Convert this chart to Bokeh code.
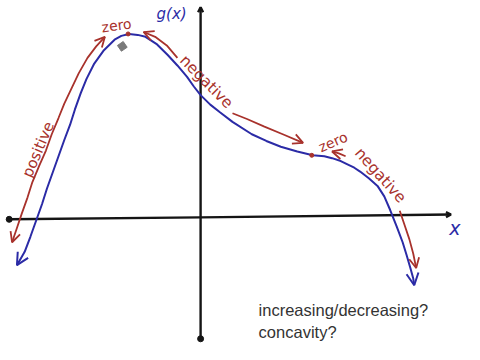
import math
from bokeh.plotting import figure
from bokeh.models import Range1d, Arrow, OpenHead
from bokeh.core.properties import value
from bokeh.embed import file_html
from bokeh.resources import INLINE

# Hand-drawn curve g(x) (pixel-like units, y downwards)
curve_x = [17, 25, 31, 37, 43, 48, 54, 60, 66, 72, 77, 83, 89, 97, 107, 118, 125, 133, 142, 150, 162, 173, 183, 193, 200, 207, 217, 227, 240, 260, 275, 290, 307, 323, 335, 343, 352, 360, 366, 372, 381, 390, 397, 403, 410, 416, 420, 424, 427, 428]
curve_y = [277, 263, 247, 230, 213, 197, 180, 163, 146, 130, 114, 97, 82, 66, 52, 41, 37, 35, 36, 38, 46, 57, 68, 80, 90, 99, 109, 117, 127, 140, 147, 153, 158, 162, 163, 165, 168, 172, 175, 179, 186, 194, 205, 219, 237, 253, 266, 280, 291, 298]

# Red annotation arrows
pos_x = [12, 17, 22, 28, 33, 40, 47, 53, 60, 66, 73, 81, 90, 99, 108]
pos_y = [253, 238, 223, 206, 190, 173, 157, 140, 123, 108, 93, 76, 60, 48, 38]
neg1_x = [183, 172, 160, 148]
neg1_y = [60, 47, 38, 33]
neg2_x = [240, 255, 273, 292, 313]
neg2_y = [118, 124, 132, 140, 149]
neg3_x = [357, 350, 343]
neg3_y = [163, 160, 158]
neg4_x = [413, 418, 423, 427, 430]
neg4_y = [220, 235, 250, 265, 280]

# Axes
xaxis_x = [9, 207, 466]
xaxis_y = [229, 227, 224]
yaxis_x = [207, 207]
yaxis_y = [7, 354]

# Stationary points marked in red
zero_x = [132, 322]
zero_y = [35, 162]

# Labels
red_labels = ["positive", "zero", "negative", "zero", "negative"]
red_lx = [39, 120, 213, 344, 393]
red_ly = [156, 26, 85, 148, 183]
red_angle = [67, 8, -45, 24, -48]
red_size = ["15px", "14px", "15.5px", "14px", "15.5px"]

questions = ["increasing/decreasing?", "concavity?"]
q_x = [267, 267]
q_y = [324, 347]

BLUE = "#2b2ba6"
RED = "#a8322c"
BLACK = "#151515"

p = figure(width=464, height=344, output_backend="svg", toolbar_location=None,
           x_range=Range1d(0, 480), y_range=Range1d(360, 0),
           min_border=0, background_fill_color="white", border_fill_color="white")
p.axis.visible = False
p.grid.visible = False
p.outline_line_color = None

# axes
p.line(xaxis_x, xaxis_y, line_color=BLACK, line_width=2.4)
p.line(yaxis_x, yaxis_y, line_color=BLACK, line_width=2.4)
p.scatter([xaxis_x[0], yaxis_x[1]], [xaxis_y[0], yaxis_y[1]], size=6, color=BLACK)
p.add_layout(Arrow(end=OpenHead(size=5, line_color=BLACK, line_width=2.4),
                   x_start=xaxis_x[-2], y_start=xaxis_y[-2], x_end=xaxis_x[-1], y_end=xaxis_y[-1],
                   line_alpha=0))
p.add_layout(Arrow(end=OpenHead(size=5, line_color=BLACK, line_width=2.4),
                   x_start=yaxis_x[1], y_start=yaxis_y[1], x_end=yaxis_x[0], y_end=yaxis_y[0],
                   line_alpha=0))

# blue curve with arrowheads at both ends
p.line(curve_x, curve_y, line_color=BLUE, line_width=2)
p.add_layout(Arrow(end=OpenHead(size=12, line_color=BLUE, line_width=2),
                   x_start=curve_x[1], y_start=curve_y[1], x_end=curve_x[0], y_end=curve_y[0], line_alpha=0))
p.add_layout(Arrow(end=OpenHead(size=12, line_color=BLUE, line_width=2),
                   x_start=curve_x[-2], y_start=curve_y[-2], x_end=curve_x[-1], y_end=curve_y[-1], line_alpha=0))

# red arrows
def red_path(xs, ys, both=False):
    p.line(xs, ys, line_color=RED, line_width=1.8)
    p.add_layout(Arrow(end=OpenHead(size=10, line_color=RED, line_width=1.8),
                       x_start=xs[-2], y_start=ys[-2], x_end=xs[-1], y_end=ys[-1], line_alpha=0))
    if both:
        p.add_layout(Arrow(end=OpenHead(size=10, line_color=RED, line_width=1.8),
                           x_start=xs[1], y_start=ys[1], x_end=xs[0], y_end=ys[0], line_alpha=0))

red_path(pos_x, pos_y, both=True)
red_path(neg1_x, neg1_y)
red_path(neg2_x, neg2_y)
red_path(neg3_x, neg3_y)
red_path(neg4_x, neg4_y)

p.scatter(zero_x, zero_y, size=4, color=RED)

# small pen cursor
p.scatter([126], [48], marker="square", size=7, angle=0.6, color="#7a7a7a")

# red hand labels
for t, x, y, a, s in zip(red_labels, red_lx, red_ly, red_angle, red_size):
    p.text([x], [y], text=[t], angle=math.radians(a),
           text_color=RED, text_font=value("DejaVu Sans"), text_font_size=s,
           text_align="center", text_baseline="middle")

# blue labels
p.text([177], [14], text=["g(x)"], text_color=BLUE, text_font=value("DejaVu Sans"),
       text_font_size="15px", text_font_style="italic", text_align="center", text_baseline="middle")
p.text([470], [238], text=["x"], text_color=BLUE, text_font=value("DejaVu Sans"),
       text_font_size="19px", text_font_style="italic", text_align="center", text_baseline="middle")

# questions
p.text(q_x, q_y, text=questions,
       text_color="#333333", text_font=value("Liberation Sans"), text_font_size="16.5px",
       text_align="left", text_baseline="alphabetic")

open("out.html", "w").write(file_html(p, INLINE))
